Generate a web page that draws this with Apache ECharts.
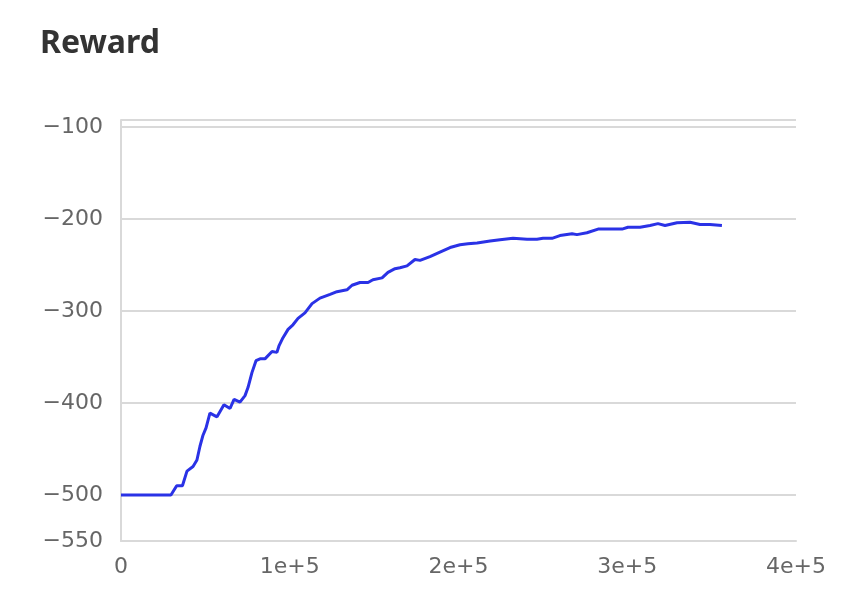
<!DOCTYPE html>
<html>
<head>
<meta charset="utf-8">
<script src="https://cdn.jsdelivr.net/npm/echarts@6/dist/echarts.min.js"></script>
<style>
    html, body { margin: 0; padding: 0; background: #fff; }
    #chart { width: 856px; height: 602px; }
</style>
</head>
<body>
<div id="chart"></div>
<script>
// training steps and reward
let steps = [0, 14800, 29600, 33000, 36400, 39100, 42700, 45000, 46800, 48600,
    50400, 52700, 56900, 61000, 64600, 67000, 70500, 73500, 75300, 77600,
    80000, 82400, 85300, 89500, 92400, 93600, 96000, 99000, 101900, 104900,
    109000, 113200, 117900, 123900, 128000, 133900, 136900, 141600, 146400, 149300,
    154700, 158200, 162400, 165300, 169500, 174200, 177200, 183100, 189000, 195000,
    200900, 205600, 211000, 218700, 224600, 232300, 240600, 246500, 250100, 255400,
    260100, 267300, 270200, 276100, 282700, 291600, 296900, 300400, 307600, 313500,
    318200, 322400, 329500, 337200, 343100, 349000, 356100];
let reward = [-500, -500, -500, -490, -490, -474, -469, -462, -447, -435,
    -427, -411, -415, -402, -406, -396, -399, -392, -383, -367,
    -354, -352, -352, -344, -345, -338, -329, -320, -315, -308,
    -302, -292, -286, -282, -279, -277, -272, -269, -269, -266,
    -264, -258, -254, -253, -251, -244, -245, -241, -236, -231,
    -228, -227, -226, -224, -222.5, -221, -222, -222, -221, -221,
    -218, -216, -217, -215, -211, -211, -211, -209, -209, -207,
    -205, -207, -204, -203.5, -206, -206, -207];
let xTicks = [0, 100000, 200000, 300000, 400000];

let labelFont = 'DejaVu Sans';
let myChart = echarts.init(document.getElementById('chart'));
let option = {
    backgroundColor: '#fff',
    animation: false,
    title: {
        text: 'Reward',
        left: 35,
        top: 23,
        textStyle: { fontFamily: 'Noto Sans', fontSize: 32, fontWeight: 'bold', color: '#333' }
    },
    grid: { left: 121, right: 60, top: 120, bottom: 61 },
    xAxis: {
        type: 'value',
        min: xTicks[0],
        max: xTicks[xTicks.length - 1],
        interval: 100000,
        axisLine: { show: true, lineStyle: { color: '#d9d9d9', width: 2 } },
        axisTick: { show: false },
        splitLine: { show: false },
        axisLabel: {
            color: '#666',
            fontFamily: labelFont,
            fontSize: 22,
            margin: 15,
            formatter: function (v) {
                return v === 0 ? '0' : (v / 100000) + 'e+5';
            }
        }
    },
    yAxis: {
        type: 'value',
        min: -550,
        max: -92.4,
        axisLine: { show: true, lineStyle: { color: '#d9d9d9', width: 2 } },
        axisTick: { show: false },
        splitLine: { lineStyle: { color: '#d9d9d9', width: 2 } },
        axisLabel: {
            color: '#666',
            fontFamily: labelFont,
            fontSize: 22,
            margin: 18,
            formatter: function (v) {
                return String(v).replace('-', '\u2212');
            }
        }
    },
    series: [{
        type: 'line',
        data: steps.map((s, i) => [s, reward[i]]),
        showSymbol: false,
        lineStyle: { color: '#2a32e6', width: 3 }
    }]
};
myChart.setOption(option);
</script>
</body>
</html>
